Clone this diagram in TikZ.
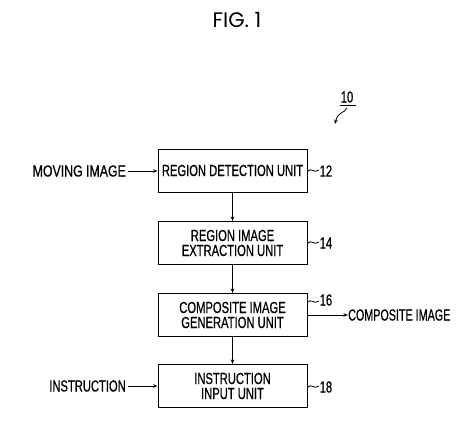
\documentclass[tikz,border=0pt]{standalone}
\usepackage{fontspec}
\setmainfont{Liberation Sans}[FakeStretch=0.7,FakeBold=0.6]
\newfontfamily\figfont{Poppins}
\usetikzlibrary{arrows.meta}
\begin{document}
\begin{tikzpicture}[x=1pt,y=-1pt,
  unitbox/.style={draw,line width=1pt,minimum width=149pt,minimum height=43pt,align=center,inner sep=0pt,font=\fontsize{16}{15}\selectfont},
  lbl/.style={font=\fontsize{16}{16}\selectfont,inner sep=0pt},
  conn/.style={line width=0.9pt,-{Stealth[length=4.5pt,width=3.5pt]}},
  squig/.style={line width=0.8pt}]
\useasboundingbox (0,0) rectangle (474,444);
\node[font=\figfont\fontsize{21}{21}\selectfont] (fig) at (237,20) {FIG. 1};
\node[unitbox] (b12) at (232.5,170.5) {REGION DETECTION UNIT};
\node[unitbox] (b14) at (232.5,243) {REGION IMAGE\\EXTRACTION UNIT};
\node[unitbox] (b16) at (232.5,315) {COMPOSITE IMAGE\\GENERATION UNIT};
\node[unitbox] (b18) at (232.5,386) {INSTRUCTION\\INPUT UNIT};
\node[lbl,anchor=east] (mi) at (126,171) {\scalebox{1.1}[1]{MOVING IMAGE}};
\node[lbl,anchor=east] (ins) at (126,386) {INSTRUCTION};
\node[lbl,anchor=west] (ci) at (348,315) {\scalebox{0.96}[1]{COMPOSITE IMAGE}};
\draw[conn] (mi.east) ++(2,0) coordinate (mis) -- (mis -| b12.west);
\draw[conn] (ins.east) ++(2,0) coordinate (inss) -- (inss -| b18.west);
\draw[conn] (b16.east) -- (ci.west);
\draw[conn] (b12) -- (b14);
\draw[conn] (b14) -- (b16);
\draw[conn] (b16) -- (b18);
% reference numerals
\foreach \n/\yy in {12/171,14/243,18/387} {
  \coordinate (t\n) at (308,\yy);
  \draw[squig] (t\n) .. controls (311,\yy-4) and (314,\yy+3) .. (319,\yy-1);
  \node[lbl,anchor=west] (n\n) at (319.5,\yy) {\n};
}
\coordinate (t16) at (308,302);
\draw[squig] (t16) .. controls (311,298) and (314,305) .. (319,301);
\node[lbl,anchor=west] (n16) at (319.5,300) {16};
\node[lbl] (n10) at (347,97) {10};
\draw[line width=0.9pt] (n10.south west) ++(-1,2.5) -- ++(16,0);
\coordinate (s10) at (347,108);
\coordinate (e10) at (335,124);
\draw[line width=0.8pt,-{Stealth[length=4.5pt,width=3.5pt]}] (s10) .. controls (344,114) and (338,111) .. (e10);
\end{tikzpicture}
\end{document}
